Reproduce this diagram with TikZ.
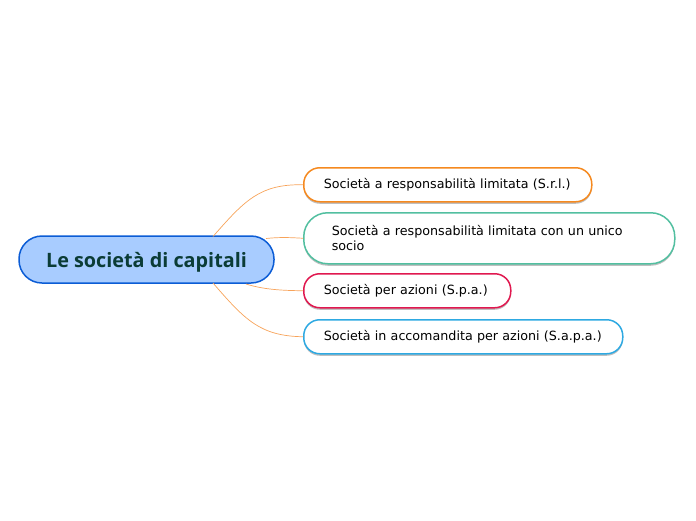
\documentclass[tikz,border=0pt]{standalone}
\usepackage{fontspec}
\setmainfont{DejaVu Sans}
\newfontfamily\titlefont{Open Sans}
\usetikzlibrary{shadows}
\definecolor{cfill}{HTML}{A8CCFF}
\definecolor{cborder}{HTML}{0B5CD5}
\definecolor{ctext}{HTML}{0B3C36}
\definecolor{corange}{HTML}{F5891F}
\definecolor{cteal}{HTML}{52BFA0}
\definecolor{cred}{HTML}{E0184F}
\definecolor{cblue}{HTML}{2EA9E2}
\definecolor{cline}{HTML}{F7A35A}
\tikzset{
  leaf/.style={draw=#1, line width=1.5pt, fill=white, rectangle, rounded corners=16pt,
    minimum height=34pt, inner ysep=0pt, inner xsep=20pt, font=\fontsize{12.7}{14.5}\selectfont, anchor=north west,
    align=left,
    drop shadow={shadow xshift=0pt, shadow yshift=-2pt, fill=black, opacity=0.25}},
  conn/.style={draw=cline, line width=0.7pt},
}
\begin{document}
\begin{tikzpicture}[x=1pt,y=-1pt]
\useasboundingbox (0,0) rectangle (696,520);
\node[draw=cborder, line width=1.5pt, fill=cfill, rectangle, rounded corners=23pt, minimum width=255pt, minimum height=47pt, inner sep=0pt,
  text height=18pt, text depth=3pt,
  font=\titlefont\bfseries\fontsize{19.8}{22}\selectfont, text=ctext] (c) at (146.5,259.5) {Le società di capitali};
\node[leaf=corange, text width=248pt] (a) at (303,167) {Società a responsabilità limitata (S.r.l.)};
\node[leaf=cteal, minimum height=51pt, rounded corners=24pt, inner xsep=28pt, text width=315pt] (b) at (303,212) {Società a responsabilità limitata con un unico\\socio};
\node[leaf=cred, text width=167pt] (d) at (303,273) {Società per azioni (S.p.a.)};
\node[leaf=cblue, text width=279pt] (e) at (303,319) {Società in accomandita per azioni (S.a.p.a.)};
\coordinate (c1) at (213,236.5);
\coordinate (c2) at (266,238.5);
\coordinate (c3) at (246,284);
\coordinate (c4) at (213,283);
\draw[conn] (c1) .. controls (245,200) and (260,184) .. (a.west);
\draw[conn] (c2) .. controls (280,237) and (290,237.5) .. (b.west);
\draw[conn] (c3) .. controls (265,290) and (285,290.5) .. (d.west);
\draw[conn] (c4) .. controls (245,320) and (260,336) .. (e.west);
\end{tikzpicture}
\end{document}
